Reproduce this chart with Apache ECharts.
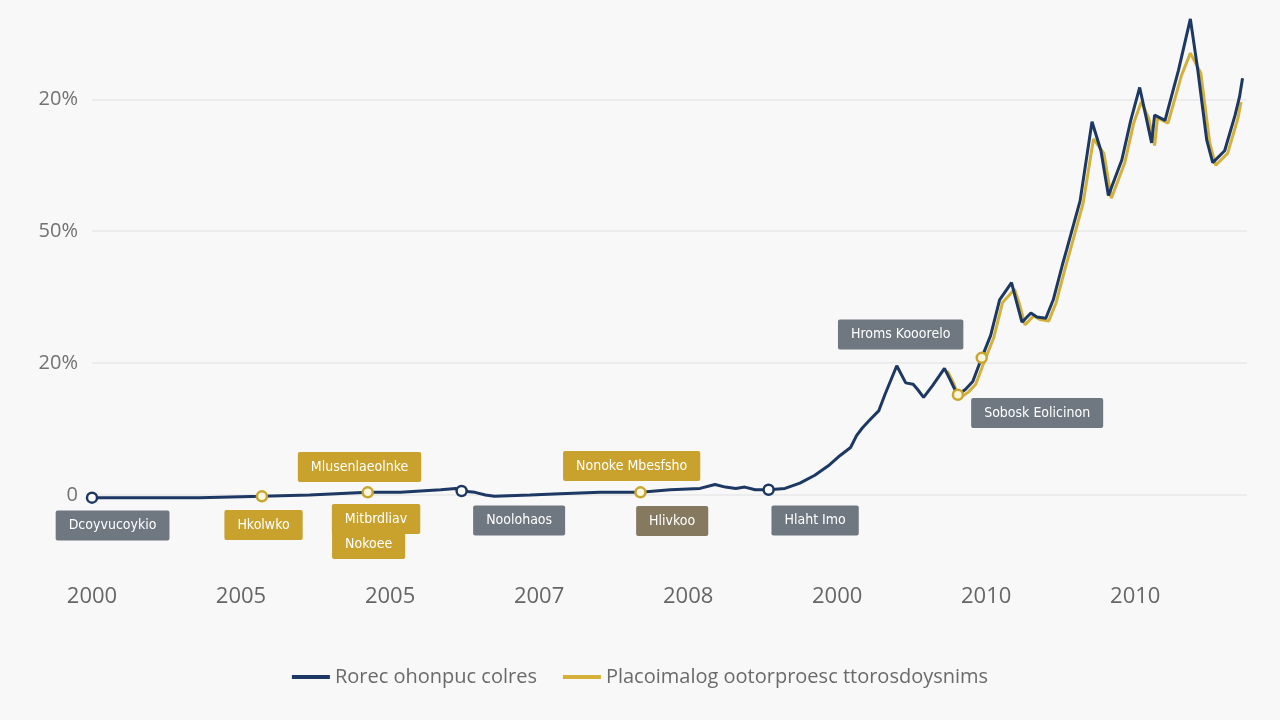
<!DOCTYPE html>
<html>
<head>
<meta charset="utf-8">
<script src="https://cdn.jsdelivr.net/npm/echarts@6/dist/echarts.min.js"></script>
<style>
	html, body { margin: 0; padding: 0; background: #f8f8f8; }
	#chart { width: 1280px; height: 720px; }
</style>
</head>
<body>
<div id="chart"></div>
<script>
// tick labels (x positions 0..7, y positions 0..3)
var xLabels = ["2000", "2005", "2005", "2007", "2008", "2000", "2010", "2010"];
var yLabels = ["0", "20%", "50%", "20%"];

var seriesNames = ["Rorec ohonpuc colres", "Placoimalog ootorproesc ttorosdoysnims"];

// navy series, [x, y]
var navyValues = [
	[0, -0.02], [0.39, -0.02], [0.72, -0.02], [1.14, -0.01], [1.46, 0], [1.85, 0.02],
	[2.07, 0.02], [2.34, 0.04], [2.44, 0.05], [2.48, 0.03], [2.57, 0.02], [2.64, 0.0],
	[2.70, -0.01], [2.94, 0], [3.14, 0.01], [3.41, 0.02], [3.68, 0.02], [3.88, 0.04],
	[4.08, 0.05], [4.18, 0.08], [4.25, 0.06], [4.32, 0.05], [4.38, 0.06], [4.45, 0.04],
	[4.54, 0.04], [4.65, 0.05], [4.75, 0.09], [4.85, 0.15], [4.95, 0.23], [5.02, 0.30],
	[5.09, 0.36], [5.13, 0.45], [5.17, 0.51], [5.22, 0.57], [5.28, 0.64], [5.32, 0.76],
	[5.36, 0.87], [5.40, 0.98], [5.46, 0.85], [5.51, 0.84], [5.54, 0.80], [5.58, 0.74],
	[5.64, 0.83], [5.72, 0.96], [5.76, 0.87], [5.79, 0.80], [5.81, 0.76], [5.86, 0.80],
	[5.91, 0.86], [5.97, 1.04], [6.03, 1.21], [6.09, 1.48], [6.17, 1.61], [6.20, 1.48],
	[6.24, 1.31], [6.30, 1.38], [6.34, 1.35], [6.40, 1.34], [6.45, 1.48], [6.51, 1.74],
	[6.54, 1.86], [6.63, 2.23], [6.71, 2.83], [6.77, 2.61], [6.82, 2.27], [6.87, 2.42],
	[6.91, 2.54], [6.97, 2.84], [7.03, 3.09], [7.07, 2.88], [7.11, 2.67], [7.13, 2.88],
	[7.20, 2.84], [7.29, 3.22], [7.37, 3.61], [7.42, 3.22], [7.48, 2.69], [7.52, 2.52],
	[7.60, 2.61], [7.67, 2.88], [7.70, 3.02], [7.72, 3.16]
];

// gold series, [x, y], runs just under the navy one on the right
var goldValues = [
	[5.74, 0.94], [5.78, 0.85], [5.81, 0.76], [5.83, 0.74], [5.88, 0.78], [5.93, 0.84],
	[5.99, 1.02], [6.05, 1.19], [6.11, 1.46], [6.19, 1.56], [6.22, 1.46], [6.26, 1.29],
	[6.32, 1.36], [6.36, 1.33], [6.42, 1.32], [6.47, 1.46], [6.53, 1.72], [6.56, 1.84],
	[6.65, 2.21], [6.72, 2.70], [6.79, 2.59], [6.84, 2.25], [6.89, 2.40], [6.93, 2.52],
	[6.99, 2.82], [7.04, 2.98], [7.09, 2.86], [7.13, 2.65], [7.15, 2.86], [7.22, 2.82],
	[7.31, 3.18], [7.37, 3.35], [7.44, 3.20], [7.50, 2.67], [7.54, 2.50], [7.62, 2.59],
	[7.69, 2.86], [7.71, 2.98]
];

// marked points
var navyMarkers = [[0, -0.02], [2.48, 0.03], [4.54, 0.04]];
var goldMarkers = [[1.14, -0.01], [1.85, 0.02], [3.68, 0.02], [5.81, 0.76], [5.97, 1.04]];

// annotations: x, y, text, kind
var notes = [
	[0.138, -0.231, "Dcoyvucoykio", "gray"],
	[1.151, -0.227, "Hkolwko", "gold"],
	[1.795, 0.212, "Mlusenlaeolnke", "gold"],
	[1.906, -0.182, "Mitbrdliav", "gold"],
	[1.856, -0.371, "Nokoee", "gold"],
	[2.866, -0.193, "Noolohaos", "gray"],
	[3.621, 0.220, "Nonoke Mbesfsho", "gold"],
	[3.893, -0.197, "Hlivkoo", "brown"],
	[4.852, -0.193, "Hlaht Imo", "gray"],
	[5.426, 1.216, "Hroms Kooorelo", "gray"],
	[6.342, 0.621, "Sobosk Eolicinon", "gray"]
];

var navy = "#1d3863";
var gold = "#d4b23a";
var boxColors = { gray: "#6f7780", gold: "#c8a22c", brown: "#857a60" };

var chart = echarts.init(document.getElementById("chart"));

var noteData = notes.map(function(n) {
	return {
		value: [n[0], n[1]],
		name: n[2],
		label: { backgroundColor: boxColors[n[3]] }
	};
});

var option = {
	backgroundColor: "#f8f8f8",
	animation: false,
	grid: { left: 92, right: 33, top: 7, bottom: 225 },
	legend: {
		data: [
			{ name: seriesNames[0], itemStyle: { color: navy } },
			{ name: seriesNames[1], itemStyle: { color: gold } }
		],
		left: "center",
		top: 662,
		icon: "rect",
		itemWidth: 38,
		itemHeight: 4,
		itemGap: 26,
		textStyle: { fontFamily: "Open Sans", fontSize: 20, color: "#6a6a6a" }
	},
	xAxis: {
		type: "value",
		min: 0,
		max: 7.75,
		interval: 1,
		axisLine: { show: false },
		axisTick: { show: false },
		splitLine: { show: false },
		axisLabel: {
			margin: 91,
			fontFamily: "Open Sans",
			fontSize: 22,
			color: "#666",
			showMaxLabel: false,
			formatter: function(v) {
				return Number.isInteger(v) ? xLabels[v] : "";
			}
		}
	},
	yAxis: {
		type: "value",
		min: 0,
		max: 3.7,
		interval: 1,
		axisLine: { show: false },
		axisTick: { show: false },
		splitLine: {
			showMaxLine: false,
			lineStyle: { color: "#e9e9e9", width: 1.5 }
		},
		axisLabel: {
			margin: 14,
			fontFamily: "Open Sans",
			fontSize: 20,
			color: "#727272",
			showMaxLabel: false,
			formatter: function(v) {
				return Number.isInteger(v) ? yLabels[v] : "";
			}
		}
	},
	series: [
		{
			name: seriesNames[1],
			type: "line",
			data: goldValues,
			showSymbol: false,
			clip: false,
			z: 2,
			lineStyle: { color: gold, width: 3 },
			itemStyle: { color: gold }
		},
		{
			name: seriesNames[0],
			type: "line",
			data: navyValues,
			showSymbol: false,
			clip: false,
			z: 3,
			lineStyle: { color: navy, width: 3 },
			itemStyle: { color: navy }
		},
		{
			name: "navy markers",
			type: "scatter",
			data: navyMarkers,
			clip: false,
			z: 4,
			symbolSize: 10,
			itemStyle: { color: "#ffffff", borderColor: navy, borderWidth: 2.5, opacity: 1 }
		},
		{
			name: "gold markers",
			type: "scatter",
			data: goldMarkers,
			clip: false,
			z: 4,
			symbolSize: 10,
			itemStyle: { color: "#fbf6de", borderColor: "#c9a52e", borderWidth: 2.5, opacity: 1 }
		},
		{
			name: "notes",
			type: "scatter",
			data: noteData,
			clip: false,
			z: 5,
			symbolSize: 1,
			itemStyle: { color: "rgba(0,0,0,0)", opacity: 1 },
			label: {
				show: true,
				position: "inside",
				formatter: "{b}",
				color: "#ffffff",
				fontFamily: "DejaVu Sans Condensed",
				fontSize: 14,
				padding: [8, 13],
				borderRadius: 2
			}
		}
	]
};

chart.setOption(option);
</script>
</body>
</html>
